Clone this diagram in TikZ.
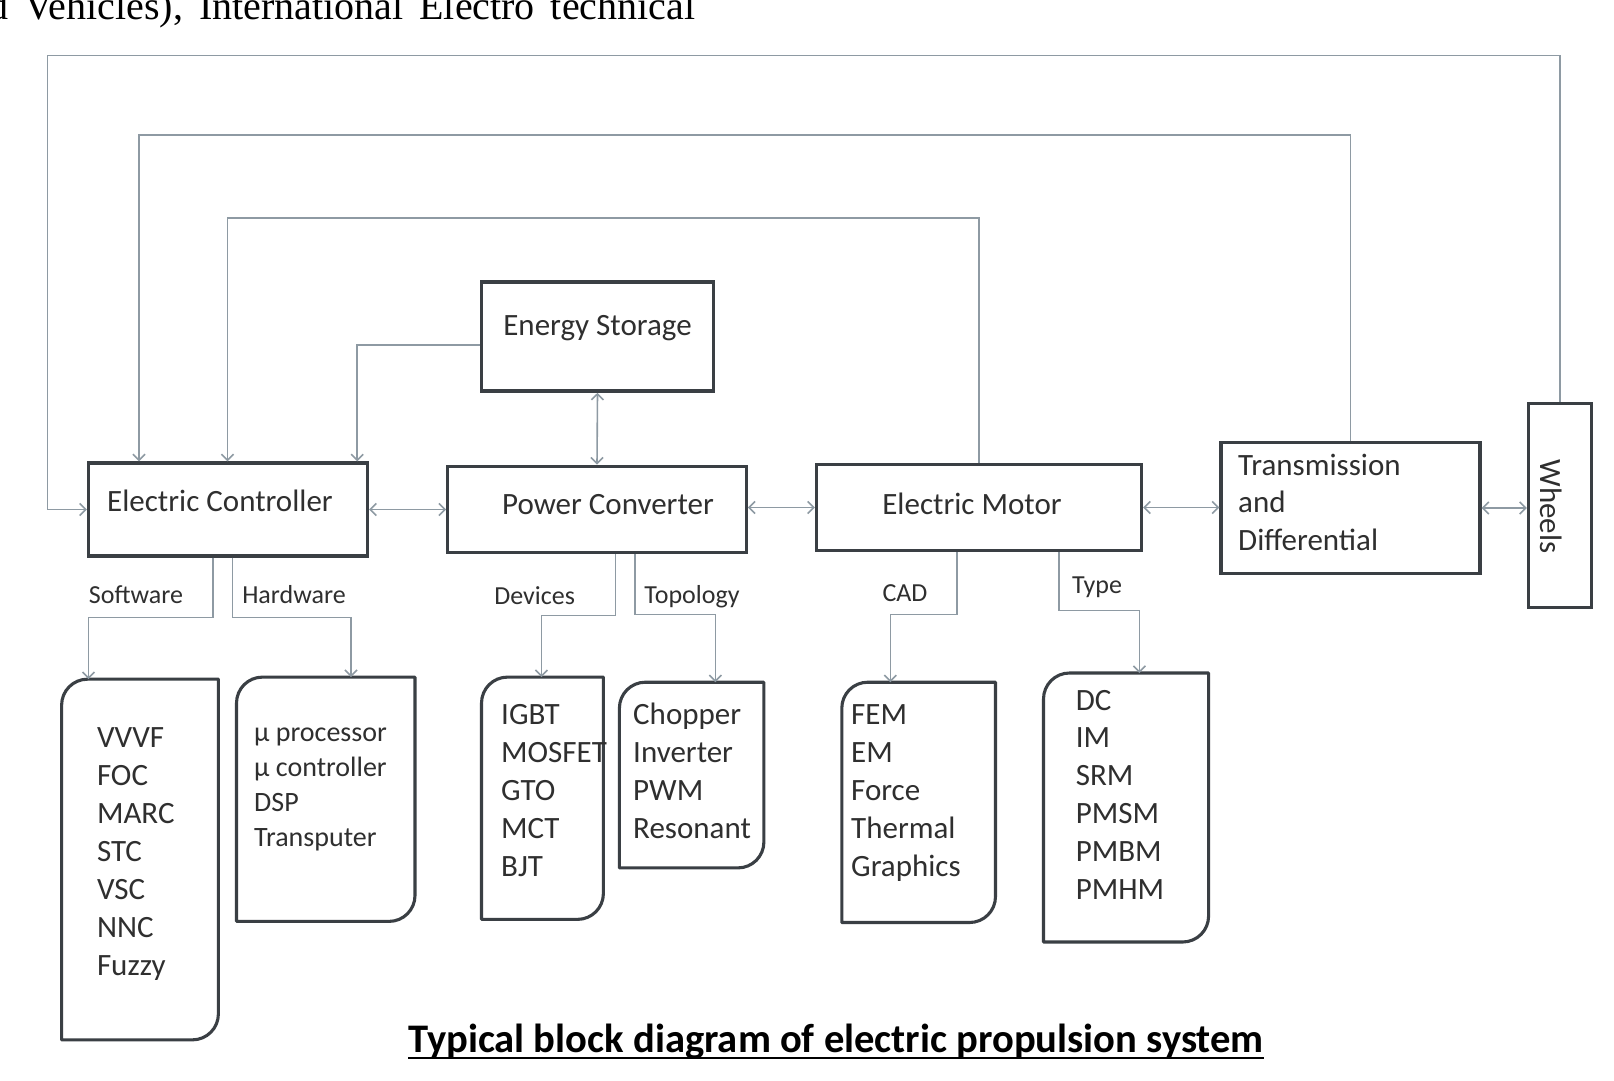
\documentclass[tikz,border=0pt]{standalone}
\usepackage{fontspec}
\setmainfont{Carlito}
\newfontfamily\pagefont{Liberation Serif}
\usetikzlibrary{arrows.meta,positioning,calc}

\definecolor{boxgray}{HTML}{3A3F44}
\definecolor{linkgray}{HTML}{8E9AA3}
\definecolor{textgray}{HTML}{2F2F2F}

\begin{document}
\begin{tikzpicture}[
  x=1pt, y=-1pt,
  >={Straight Barb[length=6pt,width=12pt]},
  mainbox/.style={draw=boxgray,line width=3.3pt,inner sep=0pt},
  listbox/.style={inner sep=0pt},
  listline/.style={draw=boxgray,line width=3.1pt,line join=round},
  boxtext/.style={font=\fontsize{31}{38}\selectfont,text=textgray,inner sep=0pt,anchor=base},
  itemtext/.style={font=\fontsize{31}{38}\selectfont,text=textgray,inner sep=0pt,anchor=base west},
  linklabel/.style={font=\fontsize{26}{30}\selectfont,text=textgray,inner sep=0pt,anchor=base},
  link/.style={draw=linkgray,line width=1.6pt}
]
\useasboundingbox (0,0) rectangle (1614,1080);
\fill[white] (0,0) rectangle (1614,1080);

% text cut from the page above
\node[anchor=base west,inner sep=0pt,font=\pagefont\fontsize{40}{44}\selectfont] (src) at (-12,19)
  {\spaceskip=16pt d Vehicles), International Electro technical};

% main blocks
\node[mainbox,minimum width=279pt,minimum height=93pt] (ec) at (228,509.5) {};
\node[mainbox,minimum width=298.5pt,minimum height=86.5pt] (pc) at (597,509.5) {};
\node[mainbox,minimum width=325pt,minimum height=86.5pt] (em) at (979,507.5) {};
\node[mainbox,minimum width=259pt,minimum height=131pt] (td) at (1350.5,508) {};
\node[mainbox,minimum width=63pt,minimum height=204pt] (wh) at (1560,505.4) {};
\node[mainbox,minimum width=231.6pt,minimum height=109pt] (es) at (597.5,336.6) {};

\node[boxtext] (ec-t) at (220,511) {Electric Controller};
\node[boxtext] (pc-t) at (608,514.4) {Power Converter};
\node[boxtext] (em-t) at (972,514.4) {Electric Motor};
\node[boxtext] (es-t) at (597.5,335) {Energy Storage};
\node[boxtext,rotate=-90,anchor=center] (wh-t) at (1551,506.4) {Wheels};
\foreach \t [count=\i from 0] in {Transmission,and,Differential}
  \node[itemtext] (td-\i) at (1238,{475+37.5*\i}) {\t};

% list blocks
\node[listbox,minimum width=156.4pt,minimum height=360.3pt] (sw) at (140,859.5) {};
\node[listbox,minimum width=178.1pt,minimum height=243.9pt] (hw) at (325.75,799.25) {};
\node[listbox,minimum width=121.5pt,minimum height=241.9pt] (dv) at (542.45,798.25) {};
\node[listbox,minimum width=144.1pt,minimum height=185.3pt] (tp) at (691.65,775.05) {};
\node[listbox,minimum width=153.3pt,minimum height=239.9pt] (cd) at (918.65,802.35) {};
\node[listbox,minimum width=164.7pt,minimum height=268.6pt] (ty) at (1126.05,807.5) {};

\foreach \b in {sw,hw,dv,tp,cd,ty}
  \draw[listline] (\b.south west) -- ([yshift=-26pt]\b.north west)
    .. controls ([yshift=-11.6pt]\b.north west) and ([xshift=11.6pt]\b.north west) .. ([xshift=26pt]\b.north west)
    -- (\b.north east) -- ([yshift=26pt]\b.south east)
    .. controls ([yshift=11.6pt]\b.south east) and ([xshift=-11.6pt]\b.south east) .. ([xshift=-26pt]\b.south east)
    -- cycle;

\foreach \t [count=\i from 0] in {VVVF,FOC,MARC,STC,VSC,NNC,Fuzzy}
  \node[itemtext] (sw-\i) at (96.8,{747+38*\i}) {\t};
\foreach \t [count=\i from 0] in {µ processor,µ controller,DSP,Transputer}
  \node[itemtext,font=\fontsize{28}{34}\selectfont] (hw-\i) at (254,{741+35.3*\i}) {\t};
\foreach \t [count=\i from 0] in {IGBT,MOSFET,GTO,MCT,BJT}
  \node[itemtext] (dv-\i) at (501,{724.5+38.1*\i}) {\t};
\foreach \t [count=\i from 0] in {Chopper,Inverter,PWM,Resonant}
  \node[itemtext] (tp-\i) at (633,{724.5+38.1*\i}) {\t};
\foreach \t [count=\i from 0] in {FEM,EM,Force,Thermal,Graphics}
  \node[itemtext] (cd-\i) at (851,{724.5+38.1*\i}) {\t};
\foreach \t [count=\i from 0] in {DC,IM,SRM,PMSM,PMBM,PMHM}
  \node[itemtext] (ty-\i) at (1075.6,{710+37.9*\i}) {\t};

% branches down to the lists
\foreach \src/\xa/\ya/\xb/\dst in {ec/213/617.6/88.5/sw, ec/232.6/617.6/351/hw,
    pc/615.5/615.5/541.4/dv, pc/635/614.5/715.4/tp,
    em/957.2/614.5/890.3/cd, em/1059.1/610.4/1139.4/ty}
  \draw[link,->] (\xa,0 |- \src.south) |- (\xb,\ya) -- (\xb,0 |- \dst.north);

\node[linklabel] (lab-sw) at (136,603) {Software};
\node[linklabel] (lab-hw) at (294,603) {Hardware};
\node[linklabel] (lab-dv) at (534.7,604) {Devices};
\node[linklabel] (lab-tp) at (692,603) {Topology};
\node[linklabel] (lab-cd) at (905,601) {CAD};
\node[linklabel] (lab-ty) at (1097,593) {Type};

% power path
\draw[link,<->] (ec.east) -- (pc.west);
\draw[link,<->] (pc.east |- em.west) -- (em.west);
\draw[link,<->] (em.east) -- (em.east -| td.west);
\draw[link,<->] (td.east) -- (td.east -| wh.west);
\draw[link,<->] (es.south) -- (pc.north);

% feedback to the controller
\coordinate (loopA) at (47.3,55.6);
\coordinate (loopB) at (139,134.8);
\coordinate (loopC) at (227.5,218.2);
\coordinate (loopD) at (357.2,344.8);
\draw[link,->] (wh.north) |- (loopA) |- (ec.west);
\draw[link,->] (td.north) |- (loopB) -- (loopB |- ec.north);
\draw[link,->] (em.north) |- (loopC) -- (loopC |- ec.north);
\draw[link,->] ([yshift=-8.2pt]es.west) -- (loopD) -- (loopD |- ec.north);

\node[anchor=base,inner sep=0pt,font=\bfseries\fontsize{40.6}{46}\selectfont] (cap) at (836,1052)
  {Typical block diagram of electric propulsion system};
\draw[line width=2.4pt] ([yshift=-6pt]cap.base west) -- ([yshift=-6pt]cap.base east);

\end{tikzpicture}
\end{document}
